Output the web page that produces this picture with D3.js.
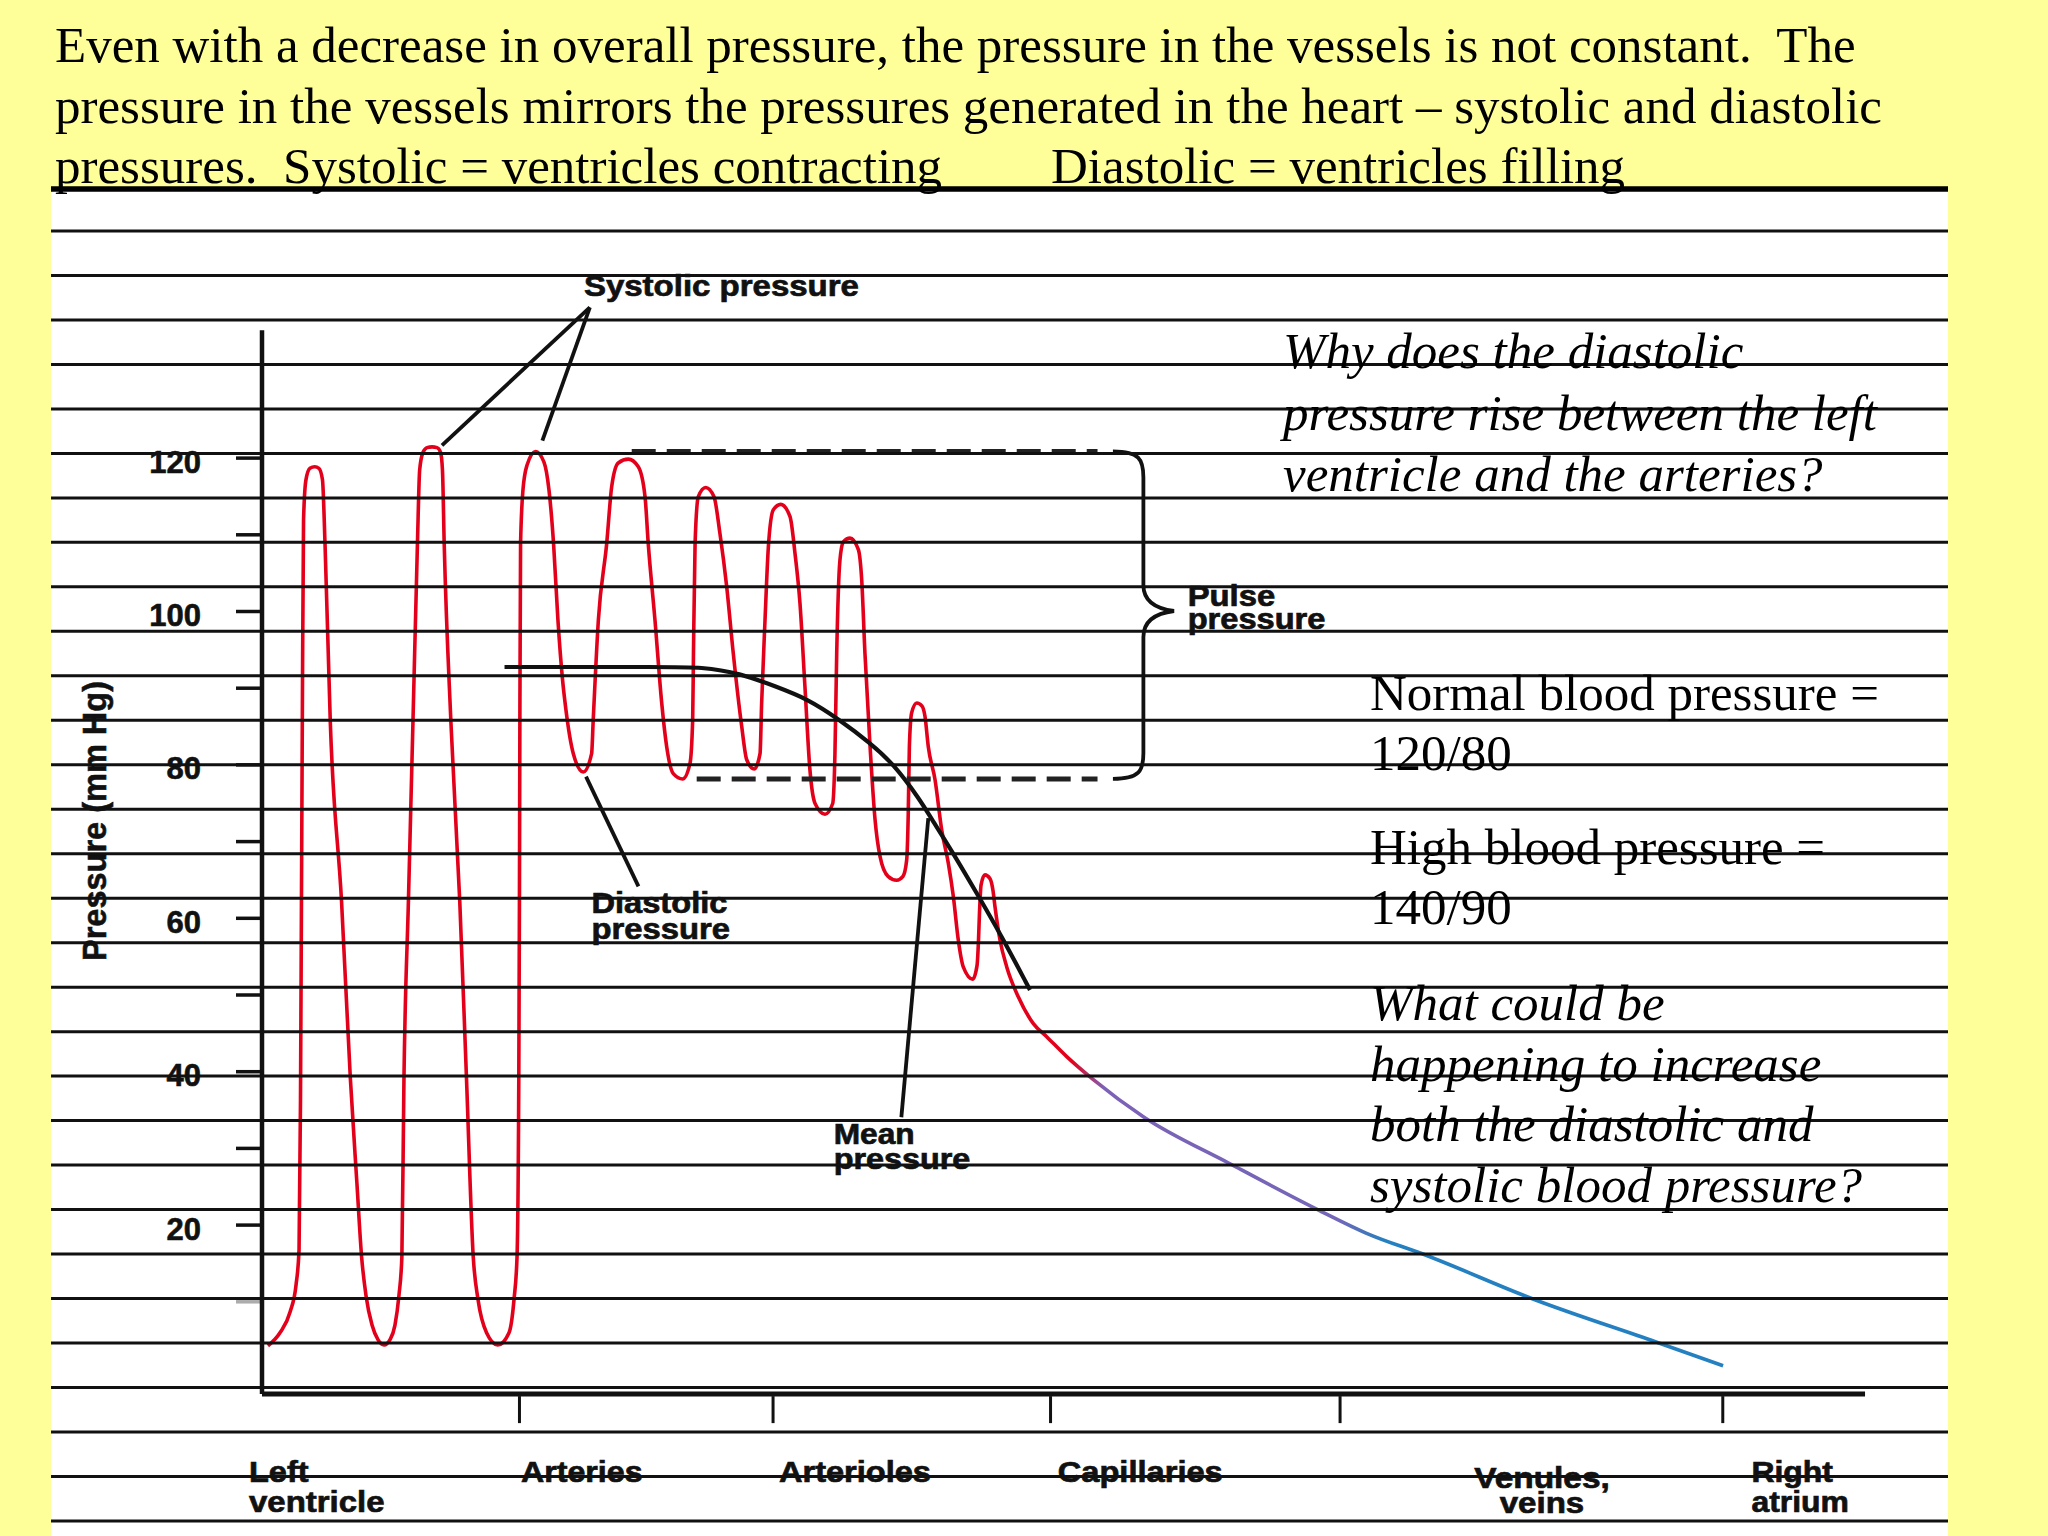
<!DOCTYPE html>
<html><head><meta charset="utf-8">
<script src="https://cdn.jsdelivr.net/npm/d3@7"></script>
<style>
html,body{margin:0;padding:0;background:#ffff99;}
svg{display:block;}
text{white-space:pre;}
</style></head><body>
<svg id="c" width="2048" height="1536"></svg>
<script>
// ---------------- DATA ----------------
const headingLines = [
  "Even with a decrease in overall pressure, the pressure in the vessels is not constant.  The",
  "pressure in the vessels mirrors the pressures generated in the heart \u2013 systolic and diastolic",
  "pressures.  Systolic = ventricles contracting"
];
const headingExtra = "Diastolic = ventricles filling";

const stageNames = [["Left","ventricle"],["Arteries"],["Arterioles"],["Capillaries"],["Venules,","veins"],["Right","atrium"]];
// relative distance along the vascular path (0-100)
const stagePos = [0, 16.02, 31.83, 49.13, 67.18, 91.04];
const stageLabelPos = [-0.81, 16.15, 32.23, 49.61, 79.80, 92.86];
const stageLabelAnchor = ["start","start","start","start","middle","start"];
const stageLabelWidths = [[59.6,135.5],[121.5],[152],[165],[135.6,84.5],[81.5,97.5]];

const pressureTicks = [10,20,30,40,50,60,70,80,90,100,110,120];
const pressureTickLabels = [20,40,60,80,100,120];

// pressure wave [distance, mmHg]
const ventricleWave = [[0.37,4.2],[1.12,5.9],[1.75,8.6],[2.12,12.1],[2.31,16.7],[2.40,36.2],[2.46,62.3],[2.52,88.4],[2.59,111.9],[2.74,117.1],[2.99,118.6],[3.29,118.8],[3.55,118.6],[3.77,117.1],[3.93,108.7],[4.26,85.4],[4.96,62.1],[5.51,39.0],[5.92,25.3],[6.21,15.8],[6.48,10.8],[6.86,6.9],[7.23,5.0],[7.61,4.3],[7.98,5.0],[8.29,6.9],[8.54,10.8],[8.72,15.8],[8.85,39.0],[9.13,62.3],[9.41,85.4],[9.69,108.7],[9.83,118.4],[10.04,120.7],[10.29,121.3],[10.60,121.4],[10.91,121.3],[11.13,120.7],[11.25,118.4],[11.36,108.7],[11.78,85.4],[12.33,62.1],[12.75,39.0],[13.17,15.8],[13.47,10.2],[14.00,5.9],[14.70,4.3],[15.40,5.9],[15.71,10.2],[15.90,15.8],[16.01,39.0],[16.05,62.3],[16.08,88.4],[16.12,108.7],[16.27,115.8],[16.52,119.0]];
const arteryWave = [[17.06,120.8],[17.58,119.4],[17.89,115.8],[18.18,108.7],[18.45,98.8],[18.73,91.2],[18.95,87.1],[19.41,81.4],[20.03,79.0],[20.55,81.4],[20.65,85.8],[20.97,98.8],[21.49,108.8],[21.80,116.2],[22.21,119.3],[22.84,119.8],[23.46,118.8],[23.88,114.9],[24.08,108.8],[24.50,98.8],[24.92,88.0],[25.23,82.3],[25.64,78.8],[26.23,78.1],[26.68,80.1],[26.85,85.8],[26.90,94.5],[27.00,108.8],[27.20,114.9],[27.66,116.1],[28.18,114.9],[28.55,110.1],[28.97,103.2],[29.38,94.5],[29.91,84.9],[30.22,80.6],[30.69,79.4],[31.05,81.4],[31.15,88.0],[31.36,98.8],[31.57,108.4],[31.88,113.2],[32.34,113.9]];
const arterioleWave = [[32.92,112.3],[33.23,107.5],[33.54,101.0],[33.85,90.1],[34.16,79.3],[34.48,74.9],[35.10,73.5],[35.58,74.9],[35.72,81.4],[35.83,94.5],[36.03,106.6],[36.24,109.0],[36.66,109.5],[37.18,108.0],[37.39,104.0],[37.59,94.5],[37.91,82.3],[38.22,72.8],[38.53,68.0],[39.03,65.4],[39.57,64.9],[39.96,65.4],[40.19,67.5],[40.29,73.6],[40.36,82.3],[40.50,86.7],[40.82,88.0],[41.15,87.6],[41.33,86.3],[41.54,82.3],[41.96,78.0],[42.38,71.4],[42.79,67.1],[43.10,62.8],[43.41,57.1],[43.72,53.6],[44.31,52.0],[44.58,53.8],[44.67,57.1],[44.73,60.6],[44.83,64.3],[45.07,65.6],[45.39,65.1],[45.57,63.6],[45.70,61.4],[46.01,57.1],[46.43,53.6],[47.15,49.7],[48.09,46.2],[48.92,44.5],[50.17,41.9]];
const venousWave = [[51.83,38.9],[54.99,34.0],[60.29,28.0],[65.96,21.8],[68.83,18.9],[72.57,16.0],[79.36,10.2],[86.91,4.7],[91.09,1.6]];

const meanPressure = [[15.12,92.7],[25.44,92.7],[27.31,92.7],[29.80,91.9],[32.09,90.1],[33.96,88.6],[36.03,85.8],[37.91,82.8],[39.36,80.1],[41.02,75.4],[41.65,73.2],[43.10,68.4],[44.56,63.2],[46.01,58.0],[47.88,50.6]];

const pulseSystolic = {p:120.8, from:23.05, to:52.09};
const pulseDiastolic = {p:78.1, from:27.10, to:52.09};

const questionTop = ["Why does the diastolic","pressure rise between the left","ventricle and the arteries?"];
const normalBP = ["Normal blood pressure =","120/80"];
const highBP = ["High blood pressure =","140/90"];
const questionBottom = ["What could be","happening to increase","both the diastolic and","systolic blood pressure?"];

// ---------------- DRAW ----------------
const svg = d3.select("#c");
const W = 2048, H = 1536;
const serif = "'Liberation Serif','Times New Roman',Times,serif";
const sans = "'Liberation Sans',Arial,Helvetica,sans-serif";

svg.append("rect").attr("width",W).attr("height",H).attr("fill","#ffff99");
svg.append("rect").attr("x",51).attr("y",189).attr("width",1897).attr("height",H-189).attr("fill","#ffffff");

const x = d3.scaleLinear().domain([0,100]).range([262,1866]);
const y = d3.scaleLinear().domain([0,120]).range([1378,457.6]);

const chart = svg.append("g");

// axes lines
chart.append("line").attr("x1",x(0)).attr("x2",x(0)).attr("y1",y(136.6)).attr("y2",y(-2.1))
  .attr("stroke","#111").attr("stroke-width",4.5);
chart.append("line").attr("x1",x(0)).attr("x2",x(99.94)).attr("y1",y(-2.1)).attr("y2",y(-2.1))
  .attr("stroke","#111").attr("stroke-width",5);

// y axis ticks
const yAxis = d3.axisLeft(y).tickValues(pressureTicks).tickSize(26).tickPadding(35)
  .tickFormat(d => pressureTickLabels.includes(d) ? d : "");
const yg = chart.append("g").attr("transform",`translate(${x(0)},0)`).call(yAxis);
yg.select(".domain").remove();
yg.selectAll(".tick line").attr("stroke","#111").attr("stroke-width",3.5)
  .attr("opacity", d => d===10 ? 0.35 : 1);
yg.selectAll(".tick text").attr("font-family",sans).attr("font-weight","bold")
  .attr("font-size",31).attr("fill","#111").attr("stroke","#111").attr("stroke-width",0.6)
  .attr("dy","0.47em");

// x axis ticks
const xAxis = d3.axisBottom(x).tickValues(stagePos.slice(1)).tickSize(27).tickFormat("");
const xg = chart.append("g").attr("transform",`translate(0,${y(-2.1)+2})`).call(xAxis);
xg.select(".domain").remove();
xg.selectAll(".tick line").attr("stroke","#111").attr("stroke-width",3);

// x labels
stageNames.forEach((lines,i)=>{
  const t = chart.append("text").attr("font-family",sans).attr("font-weight","bold")
    .attr("font-size",29).attr("fill","#111").attr("stroke","#111").attr("stroke-width",0.7)
    .attr("text-anchor",stageLabelAnchor[i]);
  const base = (i===4) ? 1488 : 1482;
  lines.forEach((s,j)=>{
    t.append("tspan").attr("x",x(stageLabelPos[i])).attr("y",base + j*(i===4?25:29.5))
      .attr("textLength",stageLabelWidths[i][j]).attr("lengthAdjust","spacingAndGlyphs").text(s);
  });
});

// y title
chart.append("text").attr("transform","translate(106,821) rotate(-90)")
  .attr("text-anchor","middle").attr("font-family",sans).attr("font-weight","bold")
  .attr("font-size",34).attr("fill","#111").attr("stroke","#111").attr("stroke-width",0.6)
  .attr("textLength",280).attr("lengthAdjust","spacingAndGlyphs")
  .text("Pressure (mm Hg)");

// gradient for the wave (arterial red -> capillary purple -> venous blue)
const defs = svg.append("defs");
const grad = defs.append("linearGradient").attr("id","waveGrad").attr("gradientUnits","userSpaceOnUse")
  .attr("x1",x(0)).attr("x2",x(100)).attr("y1",0).attr("y2",0);
[[0,"#e3001b"],[0.505,"#e3001b"],[0.525,"#7c62b6"],[0.67,"#7566b8"],[0.70,"#2480c0"],[1,"#2480c0"]]
  .forEach(([o,c])=>grad.append("stop").attr("offset",o).attr("stop-color",c));

const waveLine = d3.line().x(d=>x(d[0])).y(d=>y(d[1])).curve(d3.curveMonotoneX);
const wave = [...ventricleWave, ...arteryWave, ...arterioleWave, ...venousWave];
chart.append("path").attr("d",waveLine(wave)).attr("fill","none")
  .attr("stroke","url(#waveGrad)").attr("stroke-width",3.6).attr("stroke-linejoin","round");

// mean pressure
const meanLine = d3.line().x(d=>x(d[0])).y(d=>y(d[1])).curve(d3.curveBasis);
chart.append("path").attr("d",meanLine(meanPressure)).attr("fill","none")
  .attr("stroke","#111").attr("stroke-width",4.2);

// pulse pressure dashed lines
[pulseSystolic,pulseDiastolic].forEach(p=>{
  chart.append("line").attr("x1",x(p.from)).attr("x2",x(p.to)).attr("y1",y(p.p)).attr("y2",y(p.p))
    .attr("stroke","#222").attr("stroke-width",5).attr("stroke-dasharray","24,11");
});

// brace
{
  const xa = x(53.05), xb = x(54.95), xc = x(56.86);
  const yt = y(pulseSystolic.p), yb = y(pulseDiastolic.p), ym = y(100.0);
  const p = d3.path();
  p.moveTo(xa, yt);
  p.bezierCurveTo(xb-4, yt, xb, yt+8, xb, yt+26);
  p.lineTo(xb, ym-26);
  p.bezierCurveTo(xb, ym-8, xc-16, ym-2, xc, ym);
  p.bezierCurveTo(xc-16, ym+2, xb, ym+8, xb, ym+26);
  p.lineTo(xb, yb-26);
  p.bezierCurveTo(xb, yb-8, xb-4, yb, xa, yb);
  chart.append("path").attr("d",p.toString()).attr("fill","none").attr("stroke","#111").attr("stroke-width",3.8);
}

// annotation leaders
const leaders = [
  [[20.44,139.6],[11.22,121.6]],
  [[20.44,139.6],[17.48,122.2]],
  [[20.20,78.4],[23.47,64.1]],
  [[41.54,73.0],[39.86,34.0]]
];
leaders.forEach(([a,b])=>{
  chart.append("line").attr("x1",x(a[0])).attr("y1",y(a[1])).attr("x2",x(b[0])).attr("y2",y(b[1]))
    .attr("stroke","#111").attr("stroke-width",3.8);
});

// annotation labels
const annot = [
  {u:20.07, p:[141.1], lines:["Systolic pressure"], w:[275]},
  {u:20.54, p:[60.6,57.2], lines:["Diastolic","pressure"], w:[136,138.5]},
  {u:35.64, p:[30.5,27.2], lines:["Mean","pressure"], w:[81,136.6]},
  {u:57.71, p:[100.7,97.7], lines:["Pulse","pressure"], w:[87.6,137.8]}
];
annot.forEach(a=>{
  const t = chart.append("text").attr("font-family",sans).attr("font-weight","bold")
    .attr("font-size",29).attr("fill","#111").attr("stroke","#111").attr("stroke-width",0.7);
  a.lines.forEach((s,j)=>{
    t.append("tspan").attr("x",x(a.u)).attr("y",y(a.p[j])).attr("textLength",a.w[j])
      .attr("lengthAdjust","spacingAndGlyphs").text(s);
  });
});

// ruled notebook lines
const rules = d3.range(30).map(k=>231 + 44.48*k);
svg.append("g").selectAll("line").data(rules).join("line")
  .attr("x1",51).attr("x2",1948).attr("y1",d=>d).attr("y2",d=>d)
  .attr("stroke","#111").attr("stroke-width",3);
svg.append("line").attr("x1",51).attr("x2",1948).attr("y1",189).attr("y2",189)
  .attr("stroke","#000").attr("stroke-width",5.5);

// heading
const hd = svg.append("g").attr("font-family",serif).attr("font-size",51).attr("fill","#000");
headingLines.forEach((s,i)=>{
  hd.append("text").attr("x",55).attr("y",[61.7,123.3,183.3][i]).text(s);
});
hd.append("text").attr("x",1051).attr("y",183.3).text(headingExtra);

// right side texts
function block(lines, x0, y0, dy, italic){
  const g = svg.append("g").attr("font-family",serif).attr("font-size",51).attr("fill","#000")
    .attr("font-style", italic ? "italic" : "normal");
  lines.forEach((s,i)=> g.append("text").attr("x",x0).attr("y",y0 + i*dy).text(s));
}
block(questionTop, 1283, 368, 61.5, true);
block(normalBP, 1370, 710, 60, false);
block(highBP, 1370, 864, 60, false);
block(questionBottom, 1370, 1019.7, 60.8, true);
</script>
</body></html>
